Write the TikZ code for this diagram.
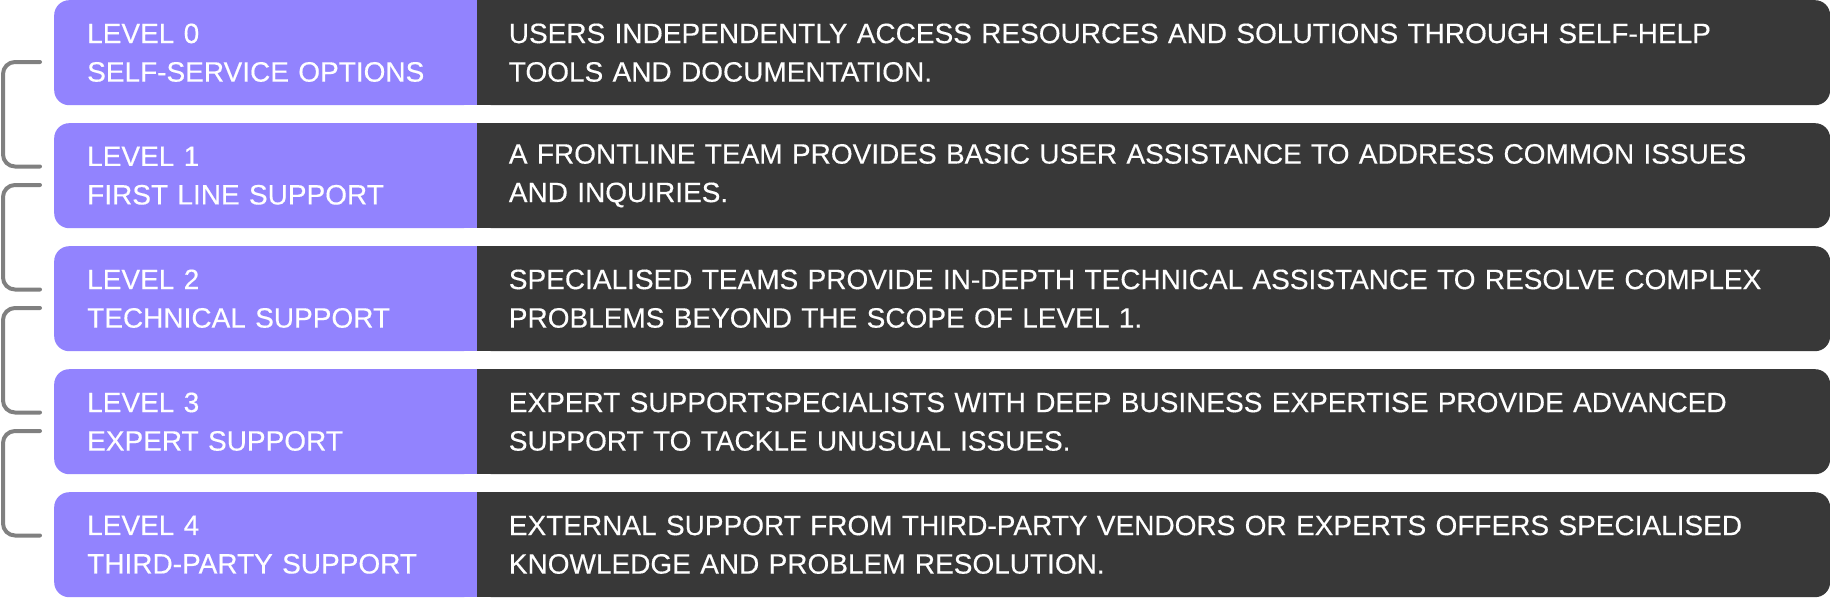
\documentclass[tikz,border=0pt]{standalone}
\usepackage{fontspec}
\setmainfont[FakeBold=0.35,BoldFont={Liberation Sans}]{Liberation Sans}
\usetikzlibrary{calc}
\definecolor{purp}{HTML}{9283FE}
\definecolor{darkbg}{HTML}{383838}
\definecolor{brk}{HTML}{808080}
\tikzset{
  rowtext/.style={anchor=north west, minimum height=105pt, inner ysep=0pt, align=left,
    text=white, rounded corners=15pt, font=\fontsize{28pt}{38.5pt}\selectfont\bfseries},
  lvlbox/.style={rowtext, fill=purp, minimum width=423pt, text width=357pt, inner xsep=33pt},
  descbox/.style={rowtext, fill=darkbg, minimum width=1352.5pt, text width=1290pt, inner xsep=31pt},
  bracket/.style={draw=brk, line width=4pt, rounded corners=12pt, line cap=round}
}
\begin{document}
\begin{tikzpicture}[x=1pt,y=-1pt]
\useasboundingbox (0,0) rectangle (1830,597);
% purple level boxes
\node[lvlbox] (l0) at (54,0)   {LEVEL 0\\SELF-SERVICE OPTIONS};
\node[lvlbox] (l1) at (54,123) {LEVEL 1\\FIRST LINE SUPPORT};
\node[lvlbox] (l2) at (54,246) {LEVEL 2\\TECHNICAL SUPPORT};
\node[lvlbox] (l3) at (54,369) {LEVEL 3\\EXPERT SUPPORT};
\node[lvlbox] (l4) at (54,492) {LEVEL 4\\THIRD-PARTY SUPPORT};
% square off the right corners of the purple boxes
\foreach \n in {l0,l1,l2,l3,l4}{
  \fill[purp] ($(\n.north east)+(-16,0)$) rectangle (\n.south east);
}
% dark description boxes
\node[descbox] (d0) at (l0.north east) {USERS INDEPENDENTLY ACCESS RESOURCES AND SOLUTIONS THROUGH SELF-HELP\\TOOLS AND DOCUMENTATION.};
\node[descbox] (d1) at (l1.north east) {A FRONTLINE TEAM PROVIDES BASIC USER ASSISTANCE TO ADDRESS COMMON ISSUES\\AND INQUIRIES.};
\node[descbox] (d2) at (l2.north east) {SPECIALISED TEAMS PROVIDE IN-DEPTH TECHNICAL ASSISTANCE TO RESOLVE COMPLEX\\PROBLEMS BEYOND THE SCOPE OF LEVEL 1.};
\node[descbox] (d3) at (l3.north east) {EXPERT SUPPORTSPECIALISTS WITH DEEP BUSINESS EXPERTISE PROVIDE ADVANCED\\SUPPORT TO TACKLE UNUSUAL ISSUES.};
\node[descbox] (d4) at (l4.north east) {EXTERNAL SUPPORT FROM THIRD-PARTY VENDORS OR EXPERTS OFFERS SPECIALISED\\KNOWLEDGE AND PROBLEM RESOLUTION.};
% square off the left corners of the dark boxes
\foreach \n in {d0,d1,d2,d3,d4}{
  \fill[darkbg] (\n.north west) rectangle ($(\n.south west)+(16,0)$);
}
% brackets linking consecutive levels
\foreach \a/\b in {l0/l1,l1/l2,l2/l3,l3/l4}{
  \draw[bracket] ($(\a.north west)+(-14,62)$) -- ($(\a.north west)+(-51,62)$)
    -- ($(\b.north west)+(-51,43.5)$) -- ($(\b.north west)+(-14,43.5)$);
}
\end{tikzpicture}
\end{document}
